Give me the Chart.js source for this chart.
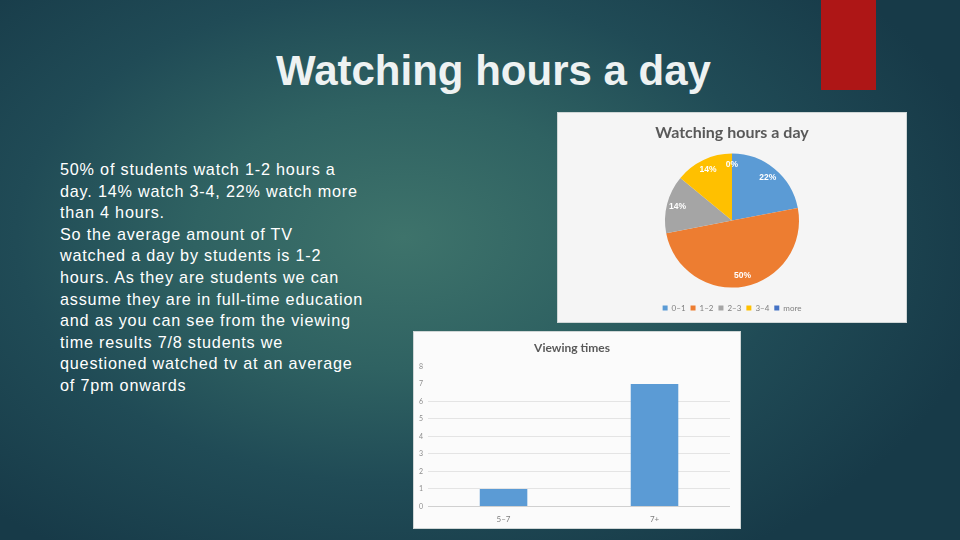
<!DOCTYPE html>
<html>
<head>
<meta charset="utf-8">
<script src="https://cdn.jsdelivr.net/npm/chart.js@4.4.1/dist/chart.umd.min.js"></script>
<style>
  html,body{margin:0;padding:0;}
  body{width:960px;height:540px;position:relative;overflow:hidden;
    background:radial-gradient(ellipse 62% 70% at 42% 44%, #3e736b 0%, #2f6262 35%, #204b56 65%, #173a48 100%);
    font-family:"Liberation Sans", Arial, sans-serif;}
  #redbar{position:absolute;left:821px;top:0;width:55px;height:90px;background:#ae1616;}
  #title{position:absolute;left:0;width:987px;top:46px;text-align:center;color:#eef2f2;font-size:42px;font-weight:bold;line-height:50px;}
  #text{position:absolute;left:60px;top:159px;width:340px;color:#ffffff;font-size:16.2px;letter-spacing:0.8px;line-height:21.6px;}
  .box{position:absolute;background:#f5f5f5;box-shadow:0 0 0 1px #cfd6d6;}
  #pieBox{left:558px;top:113px;width:348px;height:209px;}
  #barBox{left:414px;top:332px;width:326px;height:196px;background:#fbfbfb;}
  canvas{display:block;}
</style>
</head>
<body>
<div id="redbar"></div>
<div id="title">Watching hours a day</div>
<div id="text">50% of students watch 1-2 hours a<br>day. 14% watch 3-4, 22% watch more<br>than 4 hours.<br>So the average amount of TV<br>watched a day by students is 1-2<br>hours. As they are students we can<br>assume they are in full-time education<br>and as you can see from the viewing<br>time results 7/8 students we<br>questioned watched tv at an average<br>of 7pm onwards</div>
<div class="box" id="pieBox"><canvas id="pie" width="348" height="209"></canvas></div>
<div class="box" id="barBox"><canvas id="bar" width="326" height="196"></canvas></div>
<script>
const pieTitle = "Watching hours a day";
const pieCategories = ["0–1", "1–2", "2–3", "3–4", "more"];
const pieValues = [22, 50, 14, 14, 0];
const pieColors = ["#5b9bd5", "#ed7d31", "#a5a5a5", "#ffc000", "#4472c4"];

const barTitle = "Viewing times";
const barCategories = ["5–7", "7+"];
const barValues = [1, 7];
const barColor = "#5b9bd5";
const yTicks = [0, 1, 2, 3, 4, 5, 6, 7, 8];

const pieLabels = {
  id: 'pieLabels',
  afterDatasetsDraw(chart) {
    const ctx = chart.ctx;
    const meta = chart.getDatasetMeta(0);
    ctx.save();
    ctx.fillStyle = '#ffffff';
    ctx.font = 'bold 8.5px "Liberation Sans", Arial, sans-serif';
    ctx.textAlign = 'center';
    ctx.textBaseline = 'middle';
    meta.data.forEach((arc, i) => {
      const p = arc.getProps(['x','y','startAngle','endAngle','outerRadius'], true);
      const mid = (p.startAngle + p.endAngle) / 2;
      const r = p.outerRadius * 0.84;
      ctx.fillText(pieValues[i] + '%', p.x + Math.cos(mid) * r, p.y + Math.sin(mid) * r);
    });
    ctx.restore();
  }
};

new Chart(document.getElementById('pie'), {
  type: 'pie',
  data: {
    labels: pieCategories,
    datasets: [{ data: pieValues, backgroundColor: pieColors, borderWidth: 0, radius: 67 }]
  },
  options: {
    responsive: false,
    animation: false,
    layout: { padding: { top: 0, bottom: 0 } },
    plugins: {
      title: { display: true, text: pieTitle, color: '#595959',
        font: { family: 'Lato, "Open Sans", sans-serif', size: 16, weight: 'bold' },
        padding: { top: 10, bottom: 0 } },
      legend: { position: 'bottom',
        labels: { boxWidth: 5, boxHeight: 5, padding: 5, color: '#7f7f7f',
          font: { family: 'Lato, "Open Sans", sans-serif', size: 8 } } },
      tooltip: { enabled: false }
    }
  },
  plugins: [pieLabels]
});

new Chart(document.getElementById('bar'), {
  type: 'bar',
  data: {
    labels: barCategories,
    datasets: [{ data: barValues, backgroundColor: barColor, categoryPercentage: 1, barPercentage: 0.315 }]
  },
  options: {
    responsive: false,
    animation: false,
    layout: { padding: { left: 0, right: 10, top: 0, bottom: 4 } },
    plugins: {
      legend: { display: false },
      tooltip: { enabled: false },
      title: { display: true, text: barTitle, color: '#595959',
        font: { family: 'Lato, "Open Sans", sans-serif', size: 12 },
        padding: { top: 9, bottom: 11 } }
    },
    scales: {
      x: {
        grid: { display: false },
        border: { display: false },
        ticks: { color: '#7f7f7f', font: { family: 'Lato, "Open Sans", sans-serif', size: 8 }, padding: 0 }
      },
      y: {
        min: yTicks[0], max: yTicks[yTicks.length - 1],
        afterBuildTicks: (s) => { s.ticks = yTicks.map(v => ({ value: v })); },
        ticks: { color: '#8c8c8c', font: { family: 'Lato, "Open Sans", sans-serif', size: 7 }, padding: 5 },
        border: { display: false },
        grid: { color: (c) => {
          const v = c.tick ? c.tick.value : 0;
          if (v === 0) return '#d0d0d0';
          return v > 6 ? 'rgba(0,0,0,0)' : '#e4e4e4';
        }, drawTicks: false }
      }
    }
  }
});
</script>
</body>
</html>
